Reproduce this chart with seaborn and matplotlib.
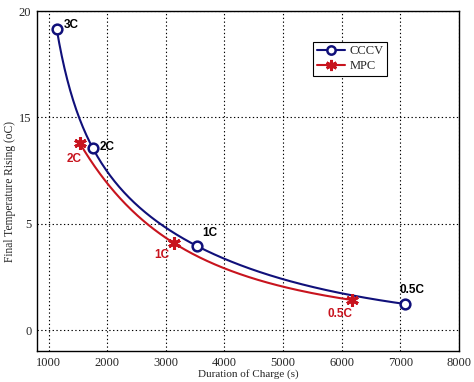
import numpy as np
import pandas as pd
import matplotlib
matplotlib.use("Agg")
import matplotlib.pyplot as plt
from matplotlib.lines import Line2D
import seaborn as sns

# values
rates_cccv = ["3C", "2C", "1C", "0.5C"]
time_cccv = [1137, 1752, 3530, 7085]
temp_cccv = [18.87, 11.41, 5.27, 1.63]

rates_mpc = ["2C", "1C", "0.5C"]
time_mpc = [1530, 3137, 6180]
temp_mpc = [11.72, 5.45, 1.88]

ytick_pos = [0, 20 / 3, 40 / 3, 20]
ytick_labels = ["0", "5", "15", "20"]

# label offsets in points (dx, dy, ha, va)
off_cccv = [(5, 3, "left", "center"), (5, 1, "left", "center"),
            (4, 5, "left", "bottom"), (-4, 6, "left", "bottom")]
off_mpc = [(1, -7, "right", "top"), (-3, -4, "right", "top"),
           (0, -6, "right", "top")]

blue = "#10107a"
red = "#c8141e"

sns.set_style("white")
plt.rcParams["font.family"] = ["Liberation Serif", "DejaVu Serif"]


def smooth(t, y, n=200):
    # curve through the points, drawn in log-log space
    lt, ly = np.log(t), np.log(y)
    coef = np.polyfit(lt, ly, len(t) - 1)
    xs = np.linspace(lt.min(), lt.max(), n)
    return pd.DataFrame({"t": np.exp(xs), "T": np.exp(np.polyval(coef, xs))})


fig = plt.figure(figsize=(4.74, 3.82), dpi=100)
ax = fig.add_axes([0.078, 0.081, 0.890, 0.890])

c1 = smooth(np.array(time_cccv, float), np.array(temp_cccv, float))
c2 = smooth(np.array(time_mpc, float), np.array(temp_mpc, float))
sns.lineplot(data=c1, x="t", y="T", color=blue, lw=1.5, ax=ax, sort=False)
sns.lineplot(data=c2, x="t", y="T", color=red, lw=1.5, ax=ax, sort=False)

ax.plot(time_cccv, temp_cccv, ls="none", marker="o", ms=7, mfc="white",
        mec=blue, mew=1.8, zorder=5)
ax.plot(time_mpc, temp_mpc, ls="none", marker=(6, 2, 0), ms=9,
        mec=red, mew=2.2, zorder=5)

lab_kw = dict(family="Liberation Sans", fontsize=8.5, fontweight="bold")
for r, t, y, (dx, dy, ha, va) in zip(rates_cccv, time_cccv, temp_cccv, off_cccv):
    ax.annotate(r, (t, y), xytext=(dx, dy), textcoords="offset points",
                color="black", ha=ha, va=va, **lab_kw)
for r, t, y, (dx, dy, ha, va) in zip(rates_mpc, time_mpc, temp_mpc, off_mpc):
    ax.annotate(r, (t, y), xytext=(dx, dy), textcoords="offset points",
                color=red, ha=ha, va=va, **lab_kw)

ax.set_xlim(800, 8000)
ax.set_ylim(-1.32, 20)
ax.set_xticks(range(1000, 8001, 1000))
ax.set_yticks(ytick_pos)
ax.set_yticklabels(ytick_labels)
ax.tick_params(labelsize=9, direction="in", length=3, color="black", pad=4)
ax.grid(True, color="black", ls=(0, (1.2, 2.2)), lw=0.8)

for s in ax.spines.values():
    s.set_color("black")
    s.set_linewidth(1)

ax.set_xlabel("Duration of Charge (s)", fontsize=8, labelpad=0)
ax.set_ylabel("Final Temperature Rising (oC)", fontsize=8.3)
ax.yaxis.set_label_coords(-0.05, 0.47)

handles = [
    Line2D([], [], color=blue, lw=1.5, marker="o", ms=6, mfc="white", mec=blue, mew=1.8),
    Line2D([], [], color=red, lw=1.5, marker=(6, 2, 0), ms=8, mec=red, mew=2),
]
leg = ax.legend(handles, ["CCCV", "MPC"], loc="upper left",
                bbox_to_anchor=(0.655, 0.91), fontsize=9, frameon=True,
                fancybox=False, edgecolor="black", framealpha=1,
                handlelength=2.2, borderpad=0.3, labelspacing=0.2,
                handletextpad=0.4, borderaxespad=0)
leg.get_frame().set_linewidth(0.8)

fig.savefig("out.png", dpi=100)
